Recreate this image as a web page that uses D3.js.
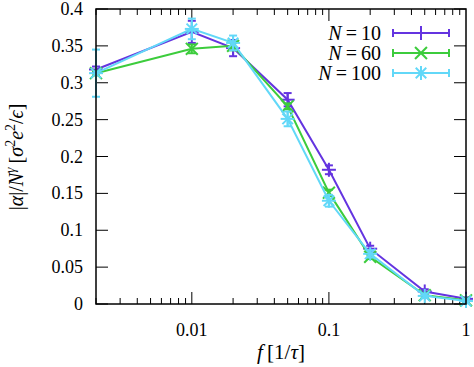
<!DOCTYPE html>
<html><head><meta charset="utf-8">
<script src="https://cdn.jsdelivr.net/npm/d3@7"></script>
<style>body{margin:0;background:#fff}svg{display:block}text{font-family:"Liberation Serif","DejaVu Serif",serif;}</style>
</head><body>
<script>
const freqs = [0.002, 0.01, 0.02, 0.05, 0.1, 0.2, 0.5, 1];
const n10 = [0.318, 0.369, 0.347, 0.277, 0.182, 0.075, 0.017, 0.007];
const n10Err = [0.004, 0.015, 0.011, 0.009, 0.006, 0.004, 0.003, 0.002];
const n60 = [0.313, 0.346, 0.350, 0.268, 0.151, 0.064, 0.012, 0.005];
const n60Err = [0.003, 0.006, 0.006, 0.004, 0.004, 0.003, 0.002, 0.002];
const n100 = [0.313, 0.373, 0.354, 0.251, 0.140, 0.068, 0.011, 0.004];
const n100Err = [0.032, 0.014, 0.010, 0.010, 0.008, 0.005, 0.003, 0.003];
const seriesNames = ["N = 10", "N = 60", "N = 100"];
const yTicks = [0, 0.05, 0.1, 0.15, 0.2, 0.25, 0.3, 0.35, 0.4];
const xTicks = [0.01, 0.1, 1];

const W = 474, H = 367;
const m = {l: 96, r: 8, t: 9, b: 63};
const svg = d3.select("body").append("svg").attr("width", W).attr("height", H);
const x = d3.scaleLog().domain([0.002, 1]).range([m.l, W - m.r]);
const y = d3.scaleLinear().domain([0, 0.4]).range([H - m.b, m.t]);

const series = [
  {name: seriesNames[0], vals: n10, err: n10Err, color: "#6434e0", marker: "plus"},
  {name: seriesNames[1], vals: n60, err: n60Err, color: "#3ccc3c", marker: "cross"},
  {name: seriesNames[2], vals: n100, err: n100Err, color: "#62d8f8", marker: "star"}
];

const minor = [];
for (let d = -3; d < 0; d++) for (let k = 1; k < 10; k++) { const v = k * Math.pow(10, d); if (v >= 0.002 && v <= 1) minor.push(v); }
const g = svg.append("g");
minor.forEach(v => {
  const major = xTicks.includes(+v.toPrecision(3));
  const len = major ? 12 : 6;
  g.append("line").attr("x1", x(v)).attr("x2", x(v)).attr("y1", y(0)).attr("y2", y(0) - len).attr("stroke", "#000").attr("stroke-width", 1);
  g.append("line").attr("x1", x(v)).attr("x2", x(v)).attr("y1", y(0.4)).attr("y2", y(0.4) + len).attr("stroke", "#000").attr("stroke-width", 1);
});
yTicks.forEach(v => {
  g.append("line").attr("x1", x(0.002)).attr("x2", x(0.002) + 12).attr("y1", y(v)).attr("y2", y(v)).attr("stroke", "#000");
  g.append("line").attr("x1", x(1)).attr("x2", x(1) - 12).attr("y1", y(v)).attr("y2", y(v)).attr("stroke", "#000");
  g.append("text").attr("x", x(0.002) - 13).attr("y", y(v) + 6).attr("text-anchor", "end").attr("font-size", 18).text(v === 0 ? "0" : String(v));
});
xTicks.forEach(v => {
  g.append("text").attr("x", x(v)).attr("y", y(0) + 32).attr("text-anchor", "middle").attr("font-size", 18).text(String(v));
});

function marker(sel, type, cx, cy, s, color) {
  const gg = sel.append("g").attr("stroke", color).attr("stroke-width", 2).attr("fill", "none");
  if (type === "plus" || type === "star") {
    gg.append("line").attr("x1", cx - s).attr("x2", cx + s).attr("y1", cy).attr("y2", cy);
    gg.append("line").attr("x1", cx).attr("x2", cx).attr("y1", cy - s).attr("y2", cy + s);
  }
  if (type === "cross" || type === "star") {
    const d = type === "star" ? s * 0.75 : s * 0.85;
    gg.append("line").attr("x1", cx - d).attr("x2", cx + d).attr("y1", cy - d).attr("y2", cy + d);
    gg.append("line").attr("x1", cx - d).attr("x2", cx + d).attr("y1", cy + d).attr("y2", cy - d);
  }
}
const line = d3.line().x(d => x(d[0])).y(d => y(d[1]));
series.forEach(s => {
  const pts = freqs.map((f, i) => [f, s.vals[i], s.err[i]]);
  const sg = svg.append("g");
  sg.append("path").attr("d", line(pts)).attr("fill", "none").attr("stroke", s.color).attr("stroke-width", 2);
  pts.forEach(p => {
    const cx = x(p[0]);
    sg.append("line").attr("x1", cx).attr("x2", cx).attr("y1", y(p[1] - p[2])).attr("y2", y(p[1] + p[2])).attr("stroke", s.color).attr("stroke-width", 2);
    [p[1] - p[2], p[1] + p[2]].forEach(e => sg.append("line").attr("x1", cx - 4).attr("x2", cx + 4).attr("y1", y(e)).attr("y2", y(e)).attr("stroke", s.color).attr("stroke-width", 2));
    marker(sg, s.marker, cx, y(p[1]), 7, s.color);
  });
});

svg.append("rect").attr("x", m.l).attr("y", m.t).attr("width", W - m.l - m.r).attr("height", H - m.t - m.b).attr("fill", "none").attr("stroke", "#000").attr("stroke-width", 1.5);

series.forEach((s, i) => {
  const ly = 33 + i * 20;
  const t = svg.append("text").attr("x", 381).attr("y", ly + 7).attr("text-anchor", "end").attr("font-size", 20);
  const parts = s.name.split(" = ");
  t.append("tspan").attr("font-style", "italic").text(parts[0]);
  t.append("tspan").text("\u2009=\u2009" + parts[1]);
  const lg = svg.append("g");
  lg.append("line").attr("x1", 393).attr("x2", 449).attr("y1", ly).attr("y2", ly).attr("stroke", s.color).attr("stroke-width", 2);
  [393, 449].forEach(xx => lg.append("line").attr("x1", xx).attr("x2", xx).attr("y1", ly - 4).attr("y2", ly + 4).attr("stroke", s.color).attr("stroke-width", 2));
  marker(lg, s.marker, 421, ly, 7, s.color);
});

const xt = svg.append("text").attr("x", 281).attr("y", 359).attr("text-anchor", "middle").attr("font-size", 21);
xt.append("tspan").attr("font-style", "italic").text("f");
xt.append("tspan").text("\u2009[1/");
xt.append("tspan").attr("font-style", "italic").text("τ");
xt.append("tspan").text("]");

const yt = svg.append("text").attr("transform", "translate(23,157) rotate(-90)").attr("text-anchor", "middle").attr("font-size", 20);
yt.append("tspan").text("|");
yt.append("tspan").attr("font-style", "italic").text("α");
yt.append("tspan").text("|/");
yt.append("tspan").attr("font-style", "italic").text("N");
yt.append("tspan").attr("font-style", "italic").attr("font-size", 14).attr("dy", -8).text("γ");
yt.append("tspan").attr("dy", 8).text("\u2009[");
yt.append("tspan").attr("font-style", "italic").text("σ");
yt.append("tspan").attr("font-size", 14).attr("dy", -8).text("2");
yt.append("tspan").attr("font-style", "italic").attr("dy", 8).text("e");
yt.append("tspan").attr("font-size", 14).attr("dy", -8).text("2");
yt.append("tspan").attr("dy", 8).text("/");
yt.append("tspan").attr("font-style", "italic").text("ϵ");
yt.append("tspan").text("]");
</script>
</body></html>
